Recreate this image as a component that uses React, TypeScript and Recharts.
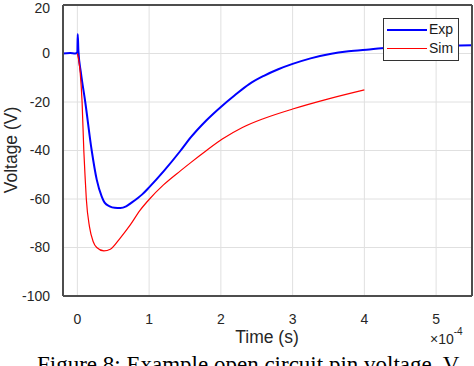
import React from "react";
import { LineChart, Line, XAxis, YAxis } from "recharts";

// time in units of 1e-4 s, voltage in V
const expTime = [-0.2, -0.1, -0.03, 0, 0.005, 0.015, 0.05, 0.11, 0.2, 0.27, 0.34, 0.38, 0.45, 0.52, 0.6, 0.68, 0.75, 0.9, 1.0, 1.21, 1.44, 1.58, 1.8, 2.02, 2.19, 2.4, 2.6, 2.8, 3.0, 3.25, 3.54, 3.75, 4.03, 4.24, 4.5, 4.8, 5.1, 5.5];
const expVolt = [0, 0.2, 0, 0.5, 8, 1, -8, -20, -40, -52, -59, -61.5, -63, -63.6, -63.7, -63, -61.6, -58.2, -55.2, -48.3, -40, -34.6, -27.5, -21.5, -17.3, -12.5, -9.2, -6.5, -4.3, -2, -0.1, 0.8, 1.5, 2.2, 2.7, 3.0, 3.2, 3.4];

const simTime = [0, 0.04, 0.066, 0.09, 0.11, 0.125, 0.17, 0.22, 0.27, 0.37, 0.46, 0.6, 0.74, 0.87, 1.0, 1.2, 1.44, 1.58, 1.8, 2.02, 2.3, 2.6, 3.0, 3.5, 4.0];
const simVolt = [0, -8, -20, -40, -52, -60, -71.6, -77.5, -80, -81.4, -80.7, -76, -70.6, -64.8, -60.2, -54.2, -48.3, -45, -40, -35.3, -30.5, -26.8, -22.9, -18.7, -15];

const xTicks = [0, 1, 2, 3, 4, 5];
const yTicks = [-100, -80, -60, -40, -20, 0, 20];
const xDomain: [number, number] = [-0.2, 5.5];
const yDomain: [number, number] = [-100, 20];

const expData = expTime.map((t, i) => ({ t, v: expVolt[i] }));
const simData = simTime.map((t, i) => ({ t, v: simVolt[i] }));

// grid lines drawn as plain series through the chart's own scales
const vGrid = xTicks.map((t) => [{ t, v: yDomain[0] }, { t, v: yDomain[1] }]);
const hGrid = yTicks.slice(1, -1).map((v) => [{ t: xDomain[0], v }, { t: xDomain[1], v }]);

const FONT = "Arial, 'Liberation Sans', Helvetica, sans-serif";
const AXIS = "#4d4d4d";
const GRID = "#e0e0e0";
const tickStyle = { fontSize: 14, fill: "#262626", fontFamily: FONT };

function LegendBox() {
  const rows = [
    { name: "Exp", color: "#0000ff", w: 2 },
    { name: "Sim", color: "#ff0000", w: 1.5 },
  ];
  return (
    <div style={{ position: "absolute", left: 383, top: 18, width: 74, height: 40, border: "1.5px solid #333", background: "#fff", fontFamily: FONT, fontSize: 14, color: "#1a1a1a", paddingTop: 1 }}>
      {rows.map((r) => (
        <div key={r.name} style={{ display: "flex", alignItems: "center", height: 19 }}>
          <div style={{ marginLeft: 3, width: 40, height: r.w, background: r.color }} />
          <span style={{ marginLeft: 2, lineHeight: "19px" }}>{r.name}</span>
        </div>
      ))}
    </div>
  );
}

export default function App() {
  return (
    <div style={{ position: "absolute", left: 0, top: 0, width: 474, height: 366, overflow: "hidden", background: "#fff" }}>
      <LineChart width={474} height={366} data={expData} margin={{ top: 0, right: 0, left: 0, bottom: 50 }}>
        <XAxis type="number" dataKey="t" domain={xDomain} ticks={xTicks} allowDataOverflow
          height={20} tickLine={false} tickMargin={12} stroke={AXIS} strokeWidth={2} tick={tickStyle} />
        <XAxis xAxisId="t" orientation="top" type="number" dataKey="t" domain={xDomain} ticks={xTicks} allowDataOverflow
          height={5} tickLine={false} stroke={AXIS} strokeWidth={2} tick={false} />
        <YAxis type="number" domain={yDomain} ticks={yTicks} allowDataOverflow
          width={63} tickLine={false} tickMargin={7} stroke={AXIS} strokeWidth={2} tick={tickStyle} />
        <YAxis yAxisId="r" orientation="right" type="number" domain={yDomain} ticks={yTicks} allowDataOverflow
          width={2} tickLine={false} stroke={AXIS} strokeWidth={2} tick={false} />
        {vGrid.map((d, i) => (
          <Line key={"vg" + i} data={d} dataKey="v" type="linear" stroke={GRID} strokeWidth={1}
            dot={false} activeDot={false} legendType="none" isAnimationActive={false} />
        ))}
        {hGrid.map((d, i) => (
          <Line key={"hg" + i} data={d} dataKey="v" type="linear" stroke={GRID} strokeWidth={1}
            dot={false} activeDot={false} legendType="none" isAnimationActive={false} />
        ))}
        <Line dataKey="v" name="Exp" type="monotone"
          stroke="#0000ff" strokeWidth={2} dot={false} isAnimationActive={false} />
        <Line data={simData} dataKey="v" name="Sim" type="monotone"
          stroke="#ff0000" strokeWidth={1.2} dot={false} isAnimationActive={false} />
      </LineChart>
      <LegendBox />
      <div style={{ position: "absolute", left: 233, top: 327, width: 68, textAlign: "center", fontFamily: FONT, fontSize: 17.5, color: "#262626", whiteSpace: "nowrap" }}>
        Time (s)
      </div>
      <div style={{ position: "absolute", left: 11, top: 150, transform: "translate(-50%, -50%) rotate(-90deg)", fontFamily: FONT, fontSize: 17.5, color: "#262626", whiteSpace: "nowrap" }}>
        Voltage (V)
      </div>
      <div style={{ position: "absolute", left: 430, top: 329, fontFamily: FONT, fontSize: 14, color: "#262626", whiteSpace: "nowrap" }}>
        ×10<sup style={{ fontSize: 10, position: "relative", top: -3 }}>-4</sup>
      </div>
      <div style={{ position: "absolute", left: 37, top: 353, fontFamily: "'Liberation Serif', 'Times New Roman', serif", fontSize: 23, lineHeight: "23px", color: "#000", whiteSpace: "nowrap" }}>
        Figure 8: Example open circuit pin voltage, V<sub style={{ fontSize: 15 }}>OC</sub>
      </div>
    </div>
  );
}
